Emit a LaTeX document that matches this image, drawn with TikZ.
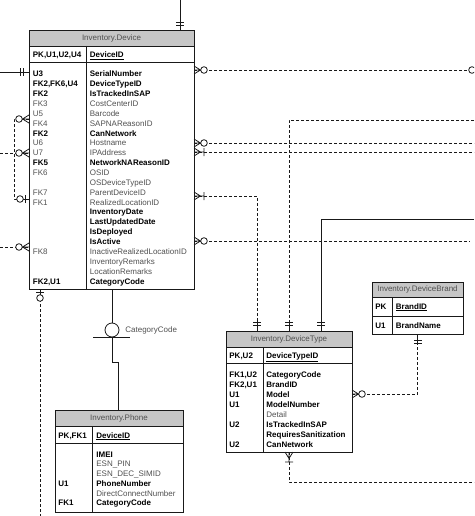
\documentclass[tikz,border=0pt]{standalone}
\usepackage{fontspec}
\setmainfont{Liberation Sans}
\usetikzlibrary{calc}
\definecolor{hdrgray}{RGB}{198,198,198}
\definecolor{hdrtext}{RGB}{80,80,80}
\definecolor{txtgray}{RGB}{80,80,80}
\definecolor{linec}{RGB}{25,25,25}
\newcommand{\erB}{\bfseries\color{black}}
\newcommand{\erG}{\color{txtgray}}
\newcommand{\erfs}{\fontsize{8}{9.86}\selectfont}
\begin{document}
\begin{tikzpicture}[x=1pt,y=-1pt, line width=0.8pt,
 tablebox/.style={draw=linec, line width=1pt, rectangle, inner sep=0pt, outer sep=0pt, anchor=north west},
 tline/.style={draw=linec, line width=0.9pt},
 celltext/.style={anchor=base west, inner sep=0pt, font=\erfs},
 hdr/.style={inner sep=0pt, font=\erfs, text=hdrtext},
 conn/.style={draw=linec, line width=0.8pt},
 dashc/.style={conn, dash pattern=on 3pt off 2pt},
 crowcirc/.pic={\draw[conn] (0,4)--(6.5,0)--(0,-4) (0,0)--(6.5,0); \draw[conn, fill=white] (10,0) circle[radius=3.3pt];},
 crowbar/.pic={\draw[conn] (0,4)--(6.5,0)--(0,-4) (0,0)--(10,0) (10,-4)--(10,4);},
 dbar/.pic={\draw[conn] (0,0)--(10,0) (6,-4)--(6,4) (9,-4)--(9,4);},
 barcirc/.pic={\draw[conn] (0,0)--(6,0) (3.5,-4)--(3.5,4); \draw[conn, fill=white] (9,0) circle[radius=3.3pt];},
]
\useasboundingbox (0,0) rectangle (474,516);
\clip (0,0) rectangle (474,516);

% ---------- Inventory.Device ----------
\fill[hdrgray] (29,31) rectangle (194,46);
\node[tablebox, minimum width=165pt, minimum height=258pt] (dev) at (29,31) {};
\draw[tline] (dev.west |- 0,46) -- (dev.east |- 0,46)
  (dev.west |- 0,62) -- (dev.east |- 0,62)
  (86,46) -- (dev.south -| 86,0);
\node[hdr] (devh) at (111.5,38.5) {Inventory.Device};
\node[celltext] (devpk) at (32.5,58) {\erB PK,U1,U2,U4};
\node[celltext] (devpkn) at (89.5,58) {\erB\underline{DeviceID}};
\foreach \k/\n/\s [count=\i] in {
  U3/SerialNumber/\erB,
  {FK2,FK6,U4}/DeviceTypeID/\erB,
  FK2/IsTrackedInSAP/\erB,
  FK3/CostCenterID/\erG,
  U5/Barcode/\erG,
  FK4/SAPNAReasonID/\erG,
  FK2/CanNetwork/\erB,
  U6/Hostname/\erG,
  U7/IPAddress/\erG,
  FK5/NetworkNAReasonID/\erB,
  FK6/OSID/\erG,
  {}/OSDeviceTypeID/\erG,
  FK7/ParentDeviceID/\erG,
  FK1/RealizedLocationID/\erG,
  {}/InventoryDate/\erB,
  {}/LastUpdatedDate/\erB,
  {}/IsDeployed/\erB,
  {}/IsActive/\erB,
  FK8/InactiveRealizedLocationID/\erG,
  {}/InventoryRemarks/\erG,
  {}/LocationRemarks/\erG,
  {FK2,U1}/CategoryCode/\erB} {
  \node[celltext] (devk\i) at (32.5,{77+(\i-1)*9.857}) {\s\k};
  \node[celltext] (devn\i) at (89.5,{77+(\i-1)*9.857}) {\s\n};
}

% ---------- Inventory.Phone ----------
\fill[hdrgray] (55,410) rectangle (183,426);
\node[tablebox, minimum width=128pt, minimum height=102pt] (phone) at (55,410) {};
\draw[tline] (phone.west |- 0,426) -- (phone.east |- 0,426)
  (phone.west |- 0,443) -- (phone.east |- 0,443)
  (92,426) -- (phone.south -| 92,0);
\node[hdr] (phoneh) at (119,418) {Inventory.Phone};
\node[celltext] (phpk) at (58,438) {\erB PK,FK1};
\node[celltext] (phpkn) at (96,438) {\erB\underline{DeviceID}};
\foreach \k/\n/\s [count=\i] in {
  {}/IMEI/\erB,
  {}/ESN\_PIN/\erG,
  {}/ESN\_DEC\_SIMID/\erG,
  U1/PhoneNumber/\erB,
  {}/DirectConnectNumber/\erG,
  FK1/CategoryCode/\erB} {
  \node[celltext] (phk\i) at (58,{457+(\i-1)*9.75}) {\s\k};
  \node[celltext] (phn\i) at (96,{457+(\i-1)*9.75}) {\s\n};
}

% ---------- Inventory.DeviceType ----------
\fill[hdrgray] (226,331) rectangle (352,347);
\node[tablebox, minimum width=126pt, minimum height=121pt] (dtype) at (226,331) {};
\draw[tline] (dtype.west |- 0,347) -- (dtype.east |- 0,347)
  (dtype.west |- 0,363) -- (dtype.east |- 0,363)
  (263,347) -- (dtype.south -| 263,0);
\node[hdr] (dtypeh) at (289,339) {Inventory.DeviceType};
\node[celltext] (dtpk) at (229,358) {\erB PK,U2};
\node[celltext] (dtpkn) at (266,358) {\erB\underline{DeviceTypeID}};
\foreach \k/\n/\s [count=\i] in {
  {FK1,U2}/CategoryCode/\erB,
  {FK2,U1}/BrandID/\erB,
  U1/Model/\erB,
  U1/ModelNumber/\erB,
  {}/Detail/\erG,
  U2/IsTrackedInSAP/\erB,
  {}/RequiresSanitization/\erB,
  U2/CanNetwork/\erB} {
  \node[celltext] (dtk\i) at (229,{377.5+(\i-1)*9.93}) {\s\k};
  \node[celltext] (dtn\i) at (266,{377.5+(\i-1)*9.93}) {\s\n};
}

% ---------- Inventory.DeviceBrand ----------
\fill[hdrgray] (372,282) rectangle (463,297);
\node[tablebox, minimum width=91pt, minimum height=52pt] (dbrand) at (372,282) {};
\draw[tline] (dbrand.west |- 0,297) -- (dbrand.east |- 0,297)
  (dbrand.west |- 0,316) -- (dbrand.east |- 0,316)
  (392,297) -- (dbrand.south -| 392,0);
\node[hdr] (dbrandh) at (417.5,289.5) {Inventory.DeviceBrand};
\node[celltext] (dbpk) at (375,309) {\erB PK};
\node[celltext] (dbpkn) at (395.5,309) {\erB\underline{BrandID}};
\node[celltext] (dbk1) at (375,328) {\erB U1};
\node[celltext] (dbn1) at (395.5,328) {\erB BrandName};

% ---------- free ends ----------
\coordinate (t0) at (180,0);
\coordinate (l0) at (0,72);
\coordinate (l1) at (0,153);
\coordinate (l2) at (0,247);
\coordinate (r1) at (474,120);
\coordinate (r2) at (474,143);
\coordinate (r3) at (474,152);
\coordinate (r4) at (474,219);
\coordinate (r5) at (470,241);
\coordinate (r6) at (474,482);
\coordinate (b0) at (40,516);
\node[circle, draw=linec, fill=white, minimum size=6.6pt, inner sep=0pt] (rc0) at (472,70) {};

% ---------- connectors ----------
\draw[conn] (dev.north -| 180,0) -- (t0);
\draw[conn] (l0) -- (dev.west |- 0,72);
\draw[dashc] (dev.west |- 0,119) -- ++(-15,0) |- (dev.west |- 0,199);
\draw[dashc] (l1) -- (dev.west |- 0,153);
\draw[dashc] (l2) -- (dev.west |- 0,247);
\draw[dashc] (dev.east |- 0,70) -- (rc0);
\draw[dashc] (dev.east |- 0,143) -- (r2);
\draw[dashc] (dev.east |- 0,152) -- (r3);
\draw[dashc] (dev.east |- 0,196) -| (dtype.north -| 257,0);
\draw[dashc] (dev.east |- 0,241) -- (r5);
\draw[dashc] (r1) -| (dtype.north);
\draw[conn] (r4) -| (dtype.north -| 321,0);
\draw[dashc] (dtype.south) |- (r6);
\draw[dashc] (dtype.east |- 0,394) -| (dbrand.south);
\draw[dashc] (dev.south -| 40,0) -- (b0);

% category subtype
\node[circle, draw=linec, minimum size=14pt, inner sep=0pt] (catc) at (112,330) {};
\draw[conn] (dev.south -| 112,0) -- (catc.north);
\draw[conn] (93,337) -- (130,337);
\draw[conn] (catc.south) |- (118,362) -- (phone.north -| 118,0);
\node[anchor=west, inner sep=0pt, font=\erfs, text=txtgray] (catl) at (125,330) {CategoryCode};

% ---------- end symbols ----------
\pic[rotate=90] at (dev.north -| 180,0) {dbar};
\pic[rotate=180] at (dev.west |- 0,72) {dbar};
\pic[rotate=180] at (dev.west |- 0,119) {crowcirc};
\pic[rotate=180] at (dev.west |- 0,199) {barcirc};
\pic[rotate=180] at (dev.west |- 0,153) {crowcirc};
\pic[rotate=180] at (dev.west |- 0,247) {crowcirc};
\pic at (dev.east |- 0,70) {crowcirc};
\pic at (dev.east |- 0,143) {crowcirc};
\pic at (dev.east |- 0,152) {crowbar};
\pic at (dev.east |- 0,196) {crowbar};
\pic at (dev.east |- 0,241) {crowcirc};
\pic[rotate=90] at (dtype.north -| 257,0) {dbar};
\pic[rotate=90] at (dtype.north) {dbar};
\pic[rotate=90] at (dtype.north -| 321,0) {dbar};
\pic[rotate=-90] at (dtype.south) {crowbar};
\pic at (dtype.east |- 0,394) {crowcirc};
\pic[rotate=-90] at (dbrand.south) {dbar};
\pic[rotate=-90] at (dev.south -| 40,0) {barcirc};
\end{tikzpicture}
\end{document}
